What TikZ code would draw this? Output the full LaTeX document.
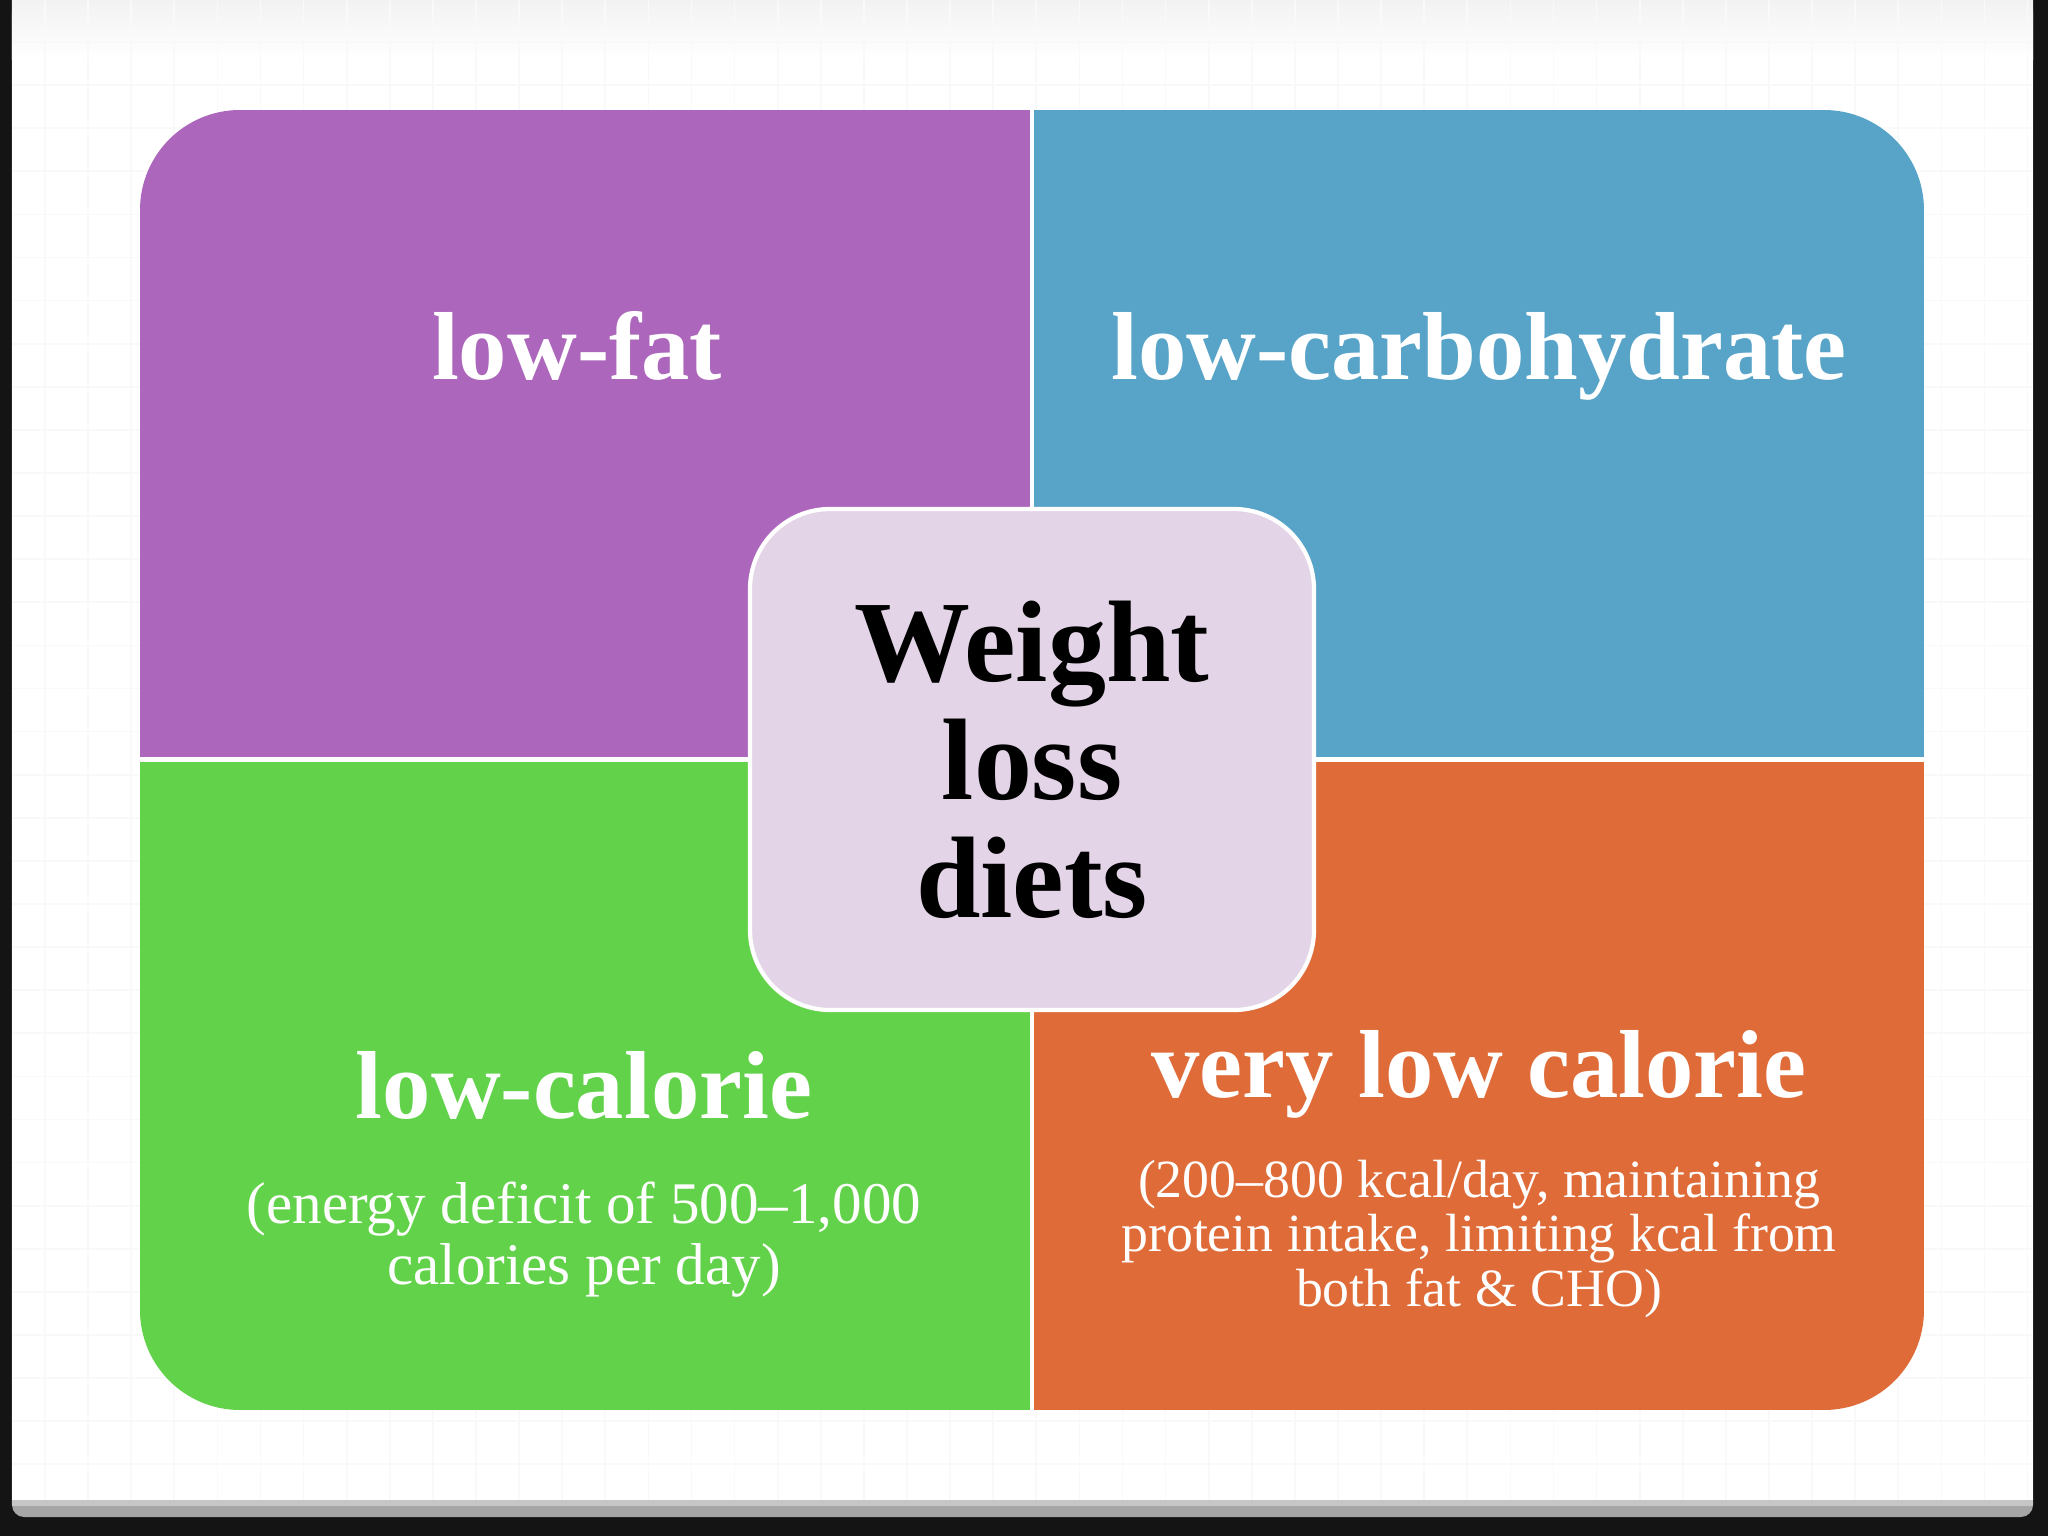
\documentclass[tikz,border=0pt]{standalone}
\usepackage{fontspec}
\setmainfont{Liberation Serif}
\usepackage{tikz}
\usetikzlibrary{positioning,calc}

\definecolor{fatpurple}{HTML}{AC66BB}
\definecolor{carbblue}{HTML}{58A3C8}
\definecolor{calgreen}{HTML}{62D24A}
\definecolor{vlcorange}{HTML}{DF6C38}
\definecolor{hublilac}{HTML}{E3D4E7}

\tikzset{
  gridline/.style={gray!5, line width=0.5pt},
  title/.style={text=white, inner sep=0pt, anchor=base, font=\bfseries\fontsize{27.5}{30}\selectfont},
  note/.style={text=white, inner sep=0pt, align=center, anchor=base},
  hub/.style={draw=white, line width=1.2pt, fill=hublilac, rounded corners=0.8cm,
    minimum width=5.64cm, minimum height=5.01cm, inner sep=0pt, align=center,
    font=\bfseries\fontsize{33}{33.6}\selectfont}
}

\begin{document}
\begin{tikzpicture}[x=1cm,y=-1cm]
    \useasboundingbox (0,0) rectangle (20.48,15.36);
    % Paper
    \fill[black!92] (0,0) rectangle (20.48,15.36);
    \fill[gray!70, rounded corners=0.12cm] (0.12,0) rectangle (20.33,15.17);
    \fill[gray!45] (0.12,15.0) rectangle (20.33,15.06);
    \fill[white] (0.12,0) rectangle (20.33,15.0);
    \shade[top color=gray!10, bottom color=white] (0.12,0) rectangle (20.33,0.6);
    \foreach \k in {0,...,46}
        \draw[gridline] ({0.45+0.431*\k},0) -- ({0.45+0.431*\k},15.0);
    \foreach \k in {0,...,33}
        \draw[gridline] (0.12,{0.42+0.431*\k}) -- (20.33,{0.42+0.431*\k});

    % Quadrants
    \begin{scope}
        \clip[rounded corners=1.0cm] (1.40,1.10) rectangle (19.24,14.10);
        \fill[fatpurple] (1.40,1.10) rectangle (10.32,7.595);
        \fill[carbblue] (10.32,1.10) rectangle (19.24,7.595);
        \fill[calgreen] (1.40,7.595) rectangle (10.32,14.10);
        \fill[vlcorange] (10.32,7.595) rectangle (19.24,14.10);
    \end{scope}
    \draw[white, line width=1.2pt] (10.32,1.10) -- (10.32,14.10);
    \draw[white, line width=1.2pt] (1.40,7.595) -- (19.24,7.595);

    % Labels
    \node[title] (lowfat) at (5.77,3.80) {low-fat};
    \node[title] (lowcarb) at (14.79,3.80) {low-carbohydrate};
    \node[title] (lowcal) at (5.84,11.18) {low-calorie};
    \node[title] (vlcal) at (14.79,10.97) {very low calorie};
    \node[note, font=\fontsize{16.8}{17.1}\selectfont] (lowcalnote) at (5.84,12.84)
        {(energy deficit of 500–1,000\\calories per day)};
    \node[note, font=\fontsize{15.3}{15.4}\selectfont] (vlcalnote) at (14.79,13.06)
        {(200–800 kcal/day, maintaining\\protein intake, limiting kcal from\\both fat \& CHO)};

    % Centre
    \node[hub] (weightloss) at (10.32,7.595) {Weight\\loss\\diets};
\end{tikzpicture}
\end{document}
